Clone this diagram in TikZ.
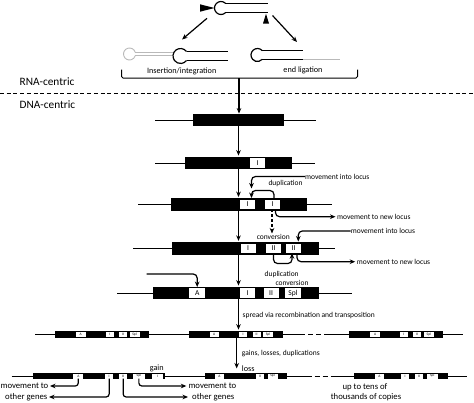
\documentclass[tikz,border=0pt]{standalone}
\usepackage{fontspec}
\setmainfont{Carlito}
\usetikzlibrary{arrows.meta}
\begin{document}
\begin{tikzpicture}[x=1pt,y=-1pt,
  thinline/.style={line width=0.9pt},
  arr/.style={line width=1.2pt,-{Stealth[length=5.5pt,width=4.6pt]}},
  pin/.style={line width=1.2pt},
  graypin/.style={line width=0.9pt,draw=gray!55},
  bigbar/.style={fill=black,draw=none,inner sep=0pt,minimum height=12.5pt},
  bigbox/.style={fill=white,draw=none,inner sep=0pt,minimum height=9.5pt,minimum width=15pt,font=\fontsize{7.5}{8}\selectfont},
  smallbar/.style={fill=black,draw=none,inner sep=0pt,minimum height=7pt},
  smallbox/.style={fill=white,draw=none,inner sep=0pt,minimum height=5pt,font=\fontsize{3.6}{4}\selectfont},
  lab/.style={inner sep=0pt,font=\fontsize{7.5}{9}\selectfont},
  labm/.style={inner sep=0pt,font=\fontsize{8.2}{9}\selectfont},
  labb/.style={inner sep=0pt,font=\fontsize{8.7}{10}\selectfont},
  head/.style={inner sep=0pt,font=\fontsize{11.3}{13}\selectfont},
  dashrow/.style={line width=0.9pt,dash pattern=on 5pt off 3pt}
]
\useasboundingbox (0,0) rectangle (474,402);

% ---------- RNA hairpins ----------
\draw[pin] (225.49,3.3) arc[start angle=-46.3,end angle=-313.7,radius=6.5];
\draw[pin] (225.49,3.3) -- (268,3.3) (225.49,12.7) -- (268,12.7);
\fill (200,4.3) -- (214.5,8) -- (200,11.7) -- cycle;
\fill (266,13.8) -- (269,23.5) -- (263,23.5) -- cycle;

\coordinate (p0a) at (207,18.3);
\coordinate (p1a) at (182,39.5);
\coordinate (p0b) at (272.5,15.5);
\coordinate (p2a) at (297,42);
\draw[arr] (p0a) -- (p1a);
\draw[arr] (p0b) -- (p2a);

% insertion hairpins
\draw[graypin] (135.25,52.3) arc[start angle=-16.46,end angle=-343.54,radius=6];
\draw[graypin] (135.25,52.3) -- (174,52.3) (135.25,55.7) -- (173,55.7);
\draw[pin] (186.5,51.5) arc[start angle=-36.87,end angle=-323.13,radius=7.5];
\draw[pin] (186.5,51.5) -- (228,51.5) (186.5,60.5) -- (228,60.5);

% end ligation hairpin
\draw[pin] (262.37,50.7) arc[start angle=-41.4,end angle=-318.6,radius=6.5];
\draw[pin] (262.37,50.7) -- (303,50.7) (262.37,59.3) -- (303,59.3);
\draw[graypin] (303,59.3) -- (340,59.3);

\node[labm] (ins) at (181.7,71) {Insertion/integration};
\node[labm] (lig) at (303,70.5) {end ligation};

% bracket
\draw[line width=1pt,rounded corners=1.5pt] (121.5,69.5) -- (121.5,78) -- (357.5,78) -- (357.5,69.5);
\coordinate (brk) at (239,78);
\coordinate (axis) at (238.5,0);
\coordinate (axis7) at (236.7,0);

% divider
\draw[line width=1pt,dash pattern=on 4pt off 2.7pt] (0,93.3) -- (474,93.3);
\node[head,anchor=west] (rna) at (19.5,82) {RNA-centric};
\node[head,anchor=west] (dna) at (19.5,105) {DNA-centric};

% ---------- row 1 ----------
\draw[thinline] (155,120) -- (316,120);
\node[bigbar,minimum width=91pt] (r1) at (238.5,120) {};
\draw[arr] (brk) -- (brk |- r1.north);

% ---------- row 2 ----------
\draw[thinline] (155,163) -- (315,163);
\node[bigbar,minimum width=107pt] (r2) at (238.5,163) {};
\node[bigbox] (b2a) at (257.5,163) {I};
\draw[arr,shorten >=1pt] (axis |- r1.south) -- (axis |- r2.north);

% ---------- row 3 ----------
\draw[thinline] (138,204.5) -- (332,204.5);
\node[bigbar,minimum width=136pt] (r3) at (239,204.5) {};
\node[bigbox] (b3a) at (247.5,204.5) {I};
\node[bigbox] (b3b) at (272.5,204.5) {I};
\draw[arr,shorten >=1pt] (axis |- r2.south) -- (axis |- r3.north);
\draw[arr,rounded corners=4pt,shorten >=1.5pt] ([xshift=1.5pt]b3b.north) |- (262,190.5) -| ([xshift=4pt]b3a.north);
\node[lab] (dup3) at (285.5,183) {duplication};
\node[lab,anchor=west] (mi3) at (305,176.5) {movement into locus};
\coordinate (mi3end) at (251.5,188.5);
\draw[arr,rounded corners=4pt] (mi3.west) -| (mi3end);
\node[lab,anchor=west] (mn3) at (337,216.7) {movement to new locus};
\draw[arr,rounded corners=4pt,shorten >=1.5pt] ([xshift=3pt]b3b.south) |- (mn3.west);

% ---------- row 4 ----------
\draw[thinline] (133,248.3) -- (335,248.3);
\node[bigbar,minimum width=147pt] (r4) at (245,248.3) {};
\node[bigbox] (b4a) at (248,248.3) {I};
\node[bigbox] (b4b) at (273.5,248.3) {II};
\node[bigbox] (b4c) at (293.5,248.3) {II};
\draw[arr,shorten >=1pt] (axis |- r3.south) -- (axis |- r4.north);
\node[lab] (conv4) at (273.3,237.3) {conversion};
\draw[arr,dash pattern=on 3pt off 2pt,shorten >=1pt] ([xshift=-0.5pt]b3b.south) -- ([xshift=-0.5pt]b3b.south |- conv4.north);
\node[lab,anchor=west] (mi4) at (350.7,231) {movement into locus};
\coordinate (mi4end) at (298.3,241.5);
\draw[arr,rounded corners=4pt] (mi4.west) -| (mi4end);
\draw[arr,rounded corners=4pt] (b4b.south) |- (283,263.5) -| ([xshift=-1.5pt]b4c.south);
\node[lab] (dup4) at (281.7,274) {duplication};
\node[lab] (conv5) at (292,282.5) {conversion};
\node[lab,anchor=west] (mn4) at (356.7,261.7) {movement to new locus};
\draw[arr,rounded corners=4pt,shorten >=1.5pt] ([xshift=3.5pt]b4c.south) |- (mn4.west);

% ---------- row 5 ----------
\draw[thinline] (117,293) -- (352,293);
\node[bigbar,minimum width=166pt] (r5) at (235.5,293) {};
\node[bigbox,minimum width=15.5pt] (b5A) at (197.2,293) {A};
\node[bigbox] (b5I) at (247.5,293) {I};
\node[bigbox] (b5II) at (271,293) {II};
\node[bigbox,minimum width=16pt] (b5S) at (293,293) {Spl};
\draw[arr,shorten >=1pt] (axis |- r4.south) -- (axis |- r5.north);
\coordinate (ma5) at (146.7,274);
\draw[arr,rounded corners=4pt,shorten >=1pt] (ma5) -| (b5A.north);

\node[lab,anchor=west] (spread) at (242.5,315) {spread via recombination and transposition};

% ---------- row 6 ----------
\draw[thinline] (35,334.3) -- (300,334.3);
\draw[dashrow] (300,334.3) -- (327,334.3);
\draw[thinline] (327,334.3) -- (462.7,334.3);
\node[smallbar,minimum width=94pt] (r6a) at (102,334.3) {};
\node[smallbox,minimum width=9.5pt] (s6aA) at (80.75,334.3) {A};
\node[smallbox,minimum width=8pt] (s6aI) at (109.5,334.3) {I};
\node[smallbox,minimum width=8pt] (s6aII) at (123,334.3) {II};
\node[smallbox,minimum width=10pt] (s6aS) at (134.5,334.3) {Spl};
\node[smallbar,minimum width=94pt] (r6b) at (235.5,334.3) {};
\node[smallbox,minimum width=9.5pt] (s6bA) at (214.25,334.3) {A};
\node[smallbox,minimum width=8pt] (s6bI) at (243,334.3) {I};
\node[smallbox,minimum width=8pt] (s6bII) at (256.5,334.3) {II};
\node[smallbox,minimum width=10pt] (s6bS) at (268,334.3) {Spl};
\node[smallbar,minimum width=94pt] (r6c) at (396.3,334.3) {};
\node[smallbox,minimum width=9.5pt] (s6cA) at (375.05,334.3) {A};
\node[smallbox,minimum width=8pt] (s6cI) at (403.8,334.3) {I};
\node[smallbox,minimum width=8pt] (s6cII) at (417.3,334.3) {II};
\node[smallbox,minimum width=10pt] (s6cS) at (428.8,334.3) {Spl};
\draw[arr,shorten >=1pt] (axis |- r5.south) -- (axis |- r6b.north);

\node[lab,anchor=west] (gld) at (241.7,353.3) {gains, losses, duplications};

% ---------- row 7 ----------
\draw[thinline] (11.7,376) -- (306.7,376);
\draw[dashrow] (306.7,376) -- (333,376);
\draw[thinline] (333,376) -- (467.3,376);
\node[smallbar,minimum width=131.7pt,minimum height=6.7pt] (r7a) at (99.15,376) {};
\node[smallbox,minimum width=10pt] (s7aA) at (78.3,376) {A};
\node[smallbox,minimum width=8.3pt] (s7aI) at (109.15,376) {I};
\node[smallbox,minimum width=8.3pt] (s7aII) at (123.15,376) {II};
\node[smallbox,minimum width=12.3pt] (s7aS) at (138.85,376) {Spl};
\node[smallbox,minimum width=11.6pt] (s7aG) at (157.5,376) {I};
\node[labm] (gain) at (156.7,368) {gain};
\node[smallbar,minimum width=82.3pt,minimum height=6.7pt] (r7b) at (246.15,376) {};
\node[smallbox,minimum width=9pt] (s7bA) at (219.5,376) {A};
\node[smallbox,minimum width=8pt] (s7bII) at (260,376) {II};
\node[smallbox,minimum width=10pt] (s7bS) at (272.5,376) {Spl};
\node[smallbar,minimum width=94.3pt,minimum height=6.7pt] (r7c) at (401.15,376) {};
\node[smallbox,minimum width=9pt] (s7cA) at (379.5,376) {A};
\node[smallbox,minimum width=8pt] (s7cI) at (405,376) {I};
\node[smallbox,minimum width=8.3pt] (s7cII) at (419.15,376) {II};
\node[smallbox,minimum width=10.5pt] (s7cS) at (432.25,376) {Spl};
\node[labm,anchor=west] (loss) at (241.7,369) {loss};
\draw[arr,shorten >=4pt] (axis7 |- r6b.south) -- (axis7 |- r7b.north);

\node[labb,anchor=east] (mt7L) at (48.5,386) {movement to};
\node[labb,anchor=east] (og7L) at (47.5,397) {other genes};
\node[labb,anchor=west] (mt7R) at (188.3,386) {movement to};
\node[labb,anchor=west] (og7R) at (192,397) {other genes};
\draw[arr,rounded corners=3pt,shorten >=1.5pt] (s7aA.south) |- (mt7L.east);
\draw[arr,rounded corners=3pt,shorten >=1.5pt] (s7aI.south) |- (og7L.east);
\draw[arr,rounded corners=3pt,shorten >=4pt] (s7aII.south) |- (og7R.west);
\draw[arr,rounded corners=3pt,shorten >=2pt] (s7aS.south) |- (mt7R.west);

\node[labb] (upto) at (365,387) {up to tens of};
\node[labb] (thou) at (366,397.5) {thousands of copies};
\end{tikzpicture}
\end{document}
